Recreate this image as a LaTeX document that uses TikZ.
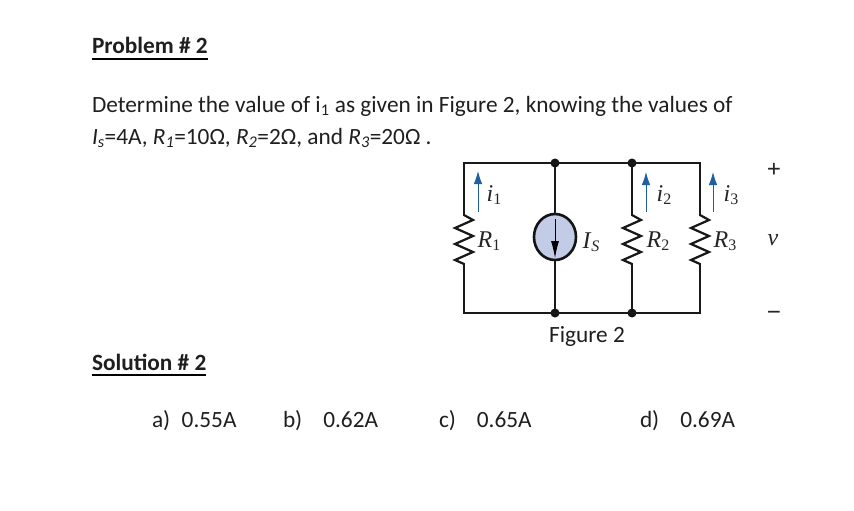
\documentclass[tikz,border=0pt]{standalone}
\usepackage{fontspec}
\setmainfont{Carlito}
\newfontfamily\serifit{Liberation Serif}
\usetikzlibrary{arrows.meta,shapes.geometric}
\definecolor{curblue}{HTML}{1F5F9E}
\definecolor{srcfill}{HTML}{C3CCE6}
\tikzset{
  x=1pt,y=-1pt,
  txt/.style={anchor=base west,inner sep=0pt,outer sep=0pt,font=\fontsize{23.3}{25}\selectfont,text=black!88},
  sym/.style={inner sep=0pt,outer sep=0pt,font=\serifit\fontsize{24}{25}\selectfont,text=black!85},
  wire/.style={line width=2.4pt,draw=black!90,line cap=rect,line join=miter},
  zig/.style={line width=2.2pt,draw=black!90,line join=miter},
  dot/.style={circle,fill=black!92,inner sep=0pt,minimum size=9pt},
  cur/.style={draw=curblue,line width=0.9pt,-{Latex[length=13pt,width=8.5pt]}},
  srce/.style={ellipse,draw=black!92,line width=2.6pt,fill=srcfill,minimum width=42pt,minimum height=46pt,inner sep=0pt},
}
\newcommand{\zigres}[1]{%
  \draw[zig] (#1,215) -- ++(9,5) -- ++(-18,8) -- ++(18,8) -- ++(-18,8) -- ++(18,8) -- ++(-18,8) -- (#1,264);}
\newcommand{\subsc}[1]{\raisebox{-3pt}{\fontsize{16}{16}\selectfont #1}}
\begin{document}
\begin{tikzpicture}
\useasboundingbox (0,0) rectangle (854,511);
\fill[white] (0,0) rectangle (854,511);
\node[txt] (prob) at (92,54) {\textbf{Problem \# 2}};
\draw[line width=1.5pt,black] (prob.south west |- 0,59) -- (prob.south east |- 0,59);
\node[txt] (l1) at (92,112) {Determine the value of i\textsubscript{1} as given in Figure 2, knowing the values of};
\node[txt] (l2) at (92,144) {\textit{I\textsubscript{s}}=4A, \textit{R\textsubscript{1}}=10Ω, \textit{R\textsubscript{2}}=2Ω, and \textit{R\textsubscript{3}}=20Ω .};
\node[txt] (sol) at (92,370) {\textbf{Solution \# 2}};
\draw[line width=1.5pt,black] (sol.south west |- 0,375) -- (sol.south east |- 0,375);
\node[txt] (a) at (152,427) {a)\hspace{11.5pt}0.55A};
\node[txt] (b) at (283,427) {b)\hspace{21pt}0.62A};
\node[txt] (c) at (439,427) {c)\hspace{21pt}0.65A};
\node[txt] (d) at (640,427) {d)\hspace{21pt}0.69A};
\node[txt,anchor=base] (fig) at (587,342) {Figure 2};
% circuit
\coordinate (tl) at (464,163); \coordinate (tr) at (700,163);
\coordinate (bl) at (464,313); \coordinate (br) at (700,313);
\node[dot] (t1) at (555,163) {}; \node[dot] (t2) at (632,163) {};
\node[dot] (b1) at (555,313) {}; \node[dot] (b2) at (632,313) {};
\coordinate (r1t) at (464,215); \coordinate (r1b) at (464,264);
\coordinate (r2t) at (632,215); \coordinate (r2b) at (632,264);
\coordinate (r3t) at (700,215); \coordinate (r3b) at (700,264);
\node[srce] (src) at (555,237) {};
\draw[wire] (r1t) -- (tl) -- (tr) -- (r3t);
\draw[wire] (r1b) -- (bl) -- (br) -- (r3b);
\draw[wire] (t1) -- (src); \draw[wire] (src) -- (b1);
\draw[wire] (t2) -- (r2t); \draw[wire] (r2b) -- (b2);
\zigres{464}\zigres{632}\zigres{700}
\draw[line width=0.9pt,black,-{Latex[length=17pt,width=8pt]}] (555,219) -- (555,258);
\draw[cur] (478,212) -- (478,171);
\draw[cur] (646,212) -- (646,172);
\draw[cur] (713,212) -- (713,172);
\node[sym] (i1) at (494,195) {\textit{i}\subsc{1}};
\node[sym] (i2) at (664,195) {\textit{i}\subsc{2}};
\node[sym] (i3) at (731,195) {\textit{i}\subsc{3}};
\node[sym] (R1) at (489,241) {\textit{R}\subsc{1}};
\node[sym] (R2) at (658,241) {\textit{R}\subsc{2}};
\node[sym] (R3) at (725,241) {\textit{R}\subsc{3}};
\node[sym] (Is) at (591,242) {\textit{I}\subsc{\textit{S}}};
\node[sym] (v) at (773,240) {\textit{v}};
\node[sym,font=\serifit\bfseries\fontsize{25}{25}\selectfont] (plus) at (774,170) {+};
\node[sym,font=\serifit\bfseries\fontsize{25}{25}\selectfont] (minus) at (774,316) {−};
\end{tikzpicture}
\end{document}
